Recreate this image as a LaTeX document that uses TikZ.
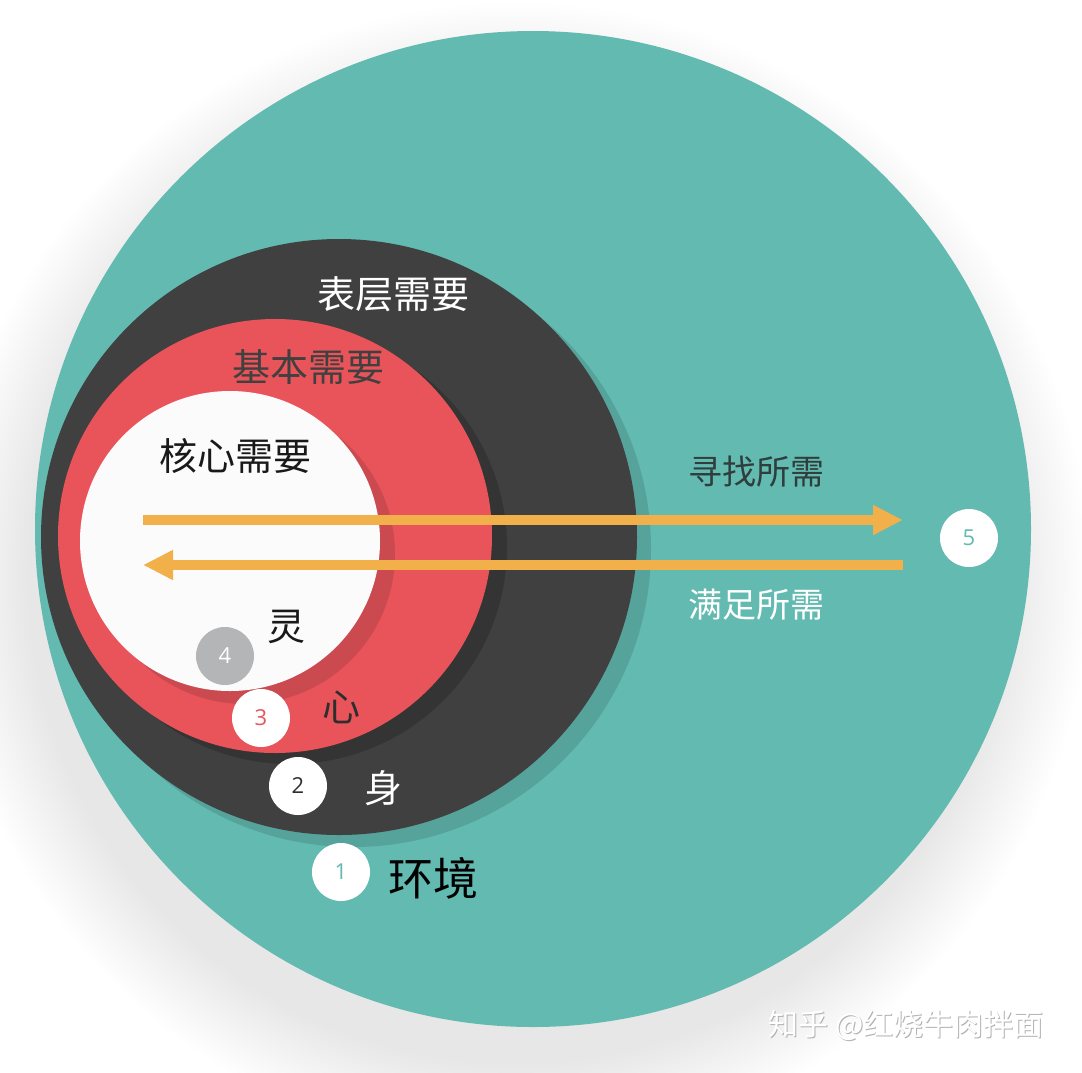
\documentclass[tikz,border=0pt]{standalone}
\usepackage{fontspec}
\newfontfamily\cjk{Noto Sans CJK SC}
\newfontfamily\numfont{Open Sans}
\usetikzlibrary{arrows.meta}
\definecolor{tealc}{HTML}{63BAB1}
\definecolor{tealsh}{HTML}{56A39B}
\definecolor{darkc}{HTML}{404040}
\definecolor{darksh}{HTML}{343434}
\definecolor{redc}{HTML}{E8545A}
\definecolor{redsh}{HTML}{CB4A50}
\definecolor{whitec}{HTML}{FBFBFB}
\definecolor{orangec}{HTML}{F2B04A}
\definecolor{grayc}{HTML}{B4B5B7}
\definecolor{txtdark}{HTML}{2E2E2E}
\definecolor{txtgreen}{HTML}{2F3E3C}
\tikzset{
  ring/.style={circle, inner sep=0pt, outer sep=0pt},
  badge/.style={circle, fill=white, inner sep=0pt, minimum size=58pt, font=\numfont\fontsize{22}{22}\selectfont},
  label/.style={font=\cjk\fontsize{38}{38}\selectfont, inner sep=0pt},
  flow/.style={line width=10pt, color=orangec, -{Triangle[length=30pt,width=28pt]}},
}
\begin{document}
\begin{tikzpicture}[x=1pt,y=-1pt]
\useasboundingbox (0,0) rectangle (1082,1072);
\fill[white] (0,0) rectangle (1082,1072);
% soft shadow of the outer circle
\foreach \i in {1,...,24}{
  \fill[black, opacity=0.004] (516,576) circle ({(486+3.6*\i)*1pt});
}
% outer circle
\node[ring, fill=tealc, minimum size=996pt] (env) at (533,529) {};
% dark circle
\node[ring, fill=tealsh, minimum size=596pt] (darksh) at (353,549) {};
\node[ring, fill=darkc, minimum size=596pt] (body) at (339,537) {};
% red circle
\node[ring, fill=darksh, minimum size=434pt] (redsh) at (290,547) {};
\node[ring, fill=redc, minimum size=434pt] (heart) at (275,536) {};
% white circle
\node[ring, fill=redsh, minimum size=300pt] (whsh) at (245,554) {};
\node[ring, fill=whitec, minimum size=300pt] (soul) at (230,541) {};
% arrows
\coordinate (a1s) at (143,520);
\coordinate (a1e) at (903,520);
\coordinate (a2s) at (903,565);
\coordinate (a2e) at (143,565);
\draw[flow] (a1s) -- (a1e);
\draw[flow] (a2s) -- (a2e);
% badges
\node[badge, fill=grayc, text=white] (b4) at (225,656) {4};
\node[badge, text=redc] (b3) at (261,718) {3};
\node[badge, text=txtdark] (b2) at (298,786) {2};
\node[badge, text=tealc] (b1) at (341,872) {1};
\node[badge, text=tealc] (b5) at (969,538) {5};
% labels
\node[label, text=white] (t1) at (393,294) {表层需要};
\node[label, text=darkc] (t2) at (308,367) {基本需要};
\node[label, text=black!90] (t3) at (235,456) {核心需要};
\node[label, text=black!90] (t4) at (286,627) {灵};
\node[label, text=txtdark] (t5) at (341,707) {心};
\node[label, text=white] (t6) at (383,788) {身};
\node[label, text=black, font=\cjk\fontsize{45}{45}\selectfont] (t7) at (433,878) {环境};
\node[label, text=txtgreen, font=\cjk\fontsize{34}{34}\selectfont] (t8) at (756,472) {寻找所需};
\node[label, text=white, font=\cjk\fontsize{34}{34}\selectfont] (t9) at (756,605) {满足所需};
% watermark
\node[inner sep=0pt, text=black!30, font=\cjk\fontsize{30}{30}\selectfont] (wm0) at (907.2,1026.2) {知乎 @红烧牛肉拌面};
\node[inner sep=0pt, text=white, font=\cjk\fontsize{30}{30}\selectfont] (wm) at (906,1025) {知乎 @红烧牛肉拌面};
\end{tikzpicture}
\end{document}
